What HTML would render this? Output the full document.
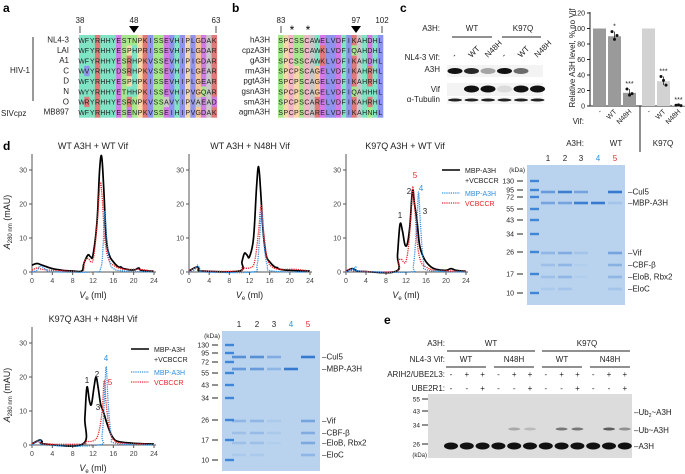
<!DOCTYPE html>
<html><head><meta charset="utf-8"><style>
body{margin:0;background:#fff;width:685px;height:474px;overflow:hidden}
svg{font-family:"Liberation Sans",sans-serif;display:block}
</style></head><body>
<svg id="fig" width="685" height="474" viewBox="0 0 685 474"></svg>
<script>
// ---------- data ----------
const seqNamesA=["NL4-3","LAI","A1","C","D","N","O","MB897"];
const seqsA=["WFYRHHYESTNPKISSEVHIPLGDAK","WFYRHHYESPHPRISSEVHIPLGDAR","WFYRHHYESRHPKVSSEVHIPIGDAR","WVYRHHYDSRHPKVSSEVHIPLGEAR","WFYRHHYESPHPKISSEVHIPLGEAR","WYYRHHYETHHPKISSEVHIPVGQAR","WRYRHHYESRNPKVSSAVYIPVAEAD","WFYRHHYESENPKVSSEIHIPVGDAK"];
const seqNamesB=["hA3H","cpzA3H","gA3H","rmA3H","pgtA3H","gsnA3H","smA3H","agmA3H"];
const seqsB=["SPCSSCAWELVDFIKAHDHL","SPCSSCAWKLVDFIQAHDHL","SPCSSCAWKLVDFIKAHDHL","SPCPSCAGELVDFIKAHRHL","SPCPSCAGELVDFIKAHRHL","SPCPSCAGELVDFIQAHHHL","SPCPSCARELVDFIKAHRHL","SPCPSCARELVDFIKAHNHL"];
const barCatsWT=["-","WT","N48H"], barValsWT=[100,90,17];
const barCatsK=["-","WT","N48H"], barValsK=[100,32,1];
const dotsWT=[[],[96,86,91],[22,14,16]];
const dotsK=[[],[38,33,27],[1,1.5,0.5]];
const yTicksBar=[0,20,40,60,80,100,120];
const xTicksSEC=[0,4,8,12,16,20,24], yTicksSEC=[0,10,20,30];
const c1Black=[[0,2],[1,2.5],[2,2],[4,1],[6,0.5],[8,0.3],[9.8,0.3],[10.2,2.5],[11,5],[11.5,4.5],[12,5],[12.8,15],[13.3,30],[13.7,34],[14.1,25],[14.6,10],[15.2,5],[16,3],[17,1.5],[17.5,1.5],[18,1],[20,0.6],[21,1.2],[21.5,0.5],[24,0.2]];
const c1Red=[[0,0.5],[1,1.2],[2,0.8],[4,0.5],[8,0.2],[10,0.2],[10.3,3],[11,4],[12,3.5],[12.8,14],[13.4,26],[13.8,22],[14.3,10],[15,4],[16,2],[18,0.8],[21,0.8],[24,0.2]];
const c1Blue=[[0,0],[1,0.5],[1.5,1.7],[2,1.5],[3,0.5],[4,0.1],[12,0],[13.5,1],[14,8],[14.3,18],[14.7,10],[15.3,3],[16,1],[18,0.3],[24,0]];
const c2Black=[[0,0.3],[1.5,1.5],[2,1],[2.5,0.3],[10,0.3],[10.5,3],[11,5.5],[11.5,5],[12,4.5],[12.8,10],[13.4,25],[13.8,31],[14.2,24],[14.7,12],[15.3,5],[16,3],[17,1.5],[17.5,1.3],[18,0.8],[20,0.5],[24,0.3]];
const c2Red=[[0,0.3],[1.5,1.3],[2.5,0.3],[10,0.3],[10.5,1.2],[12,1.2],[13,3],[13.8,12],[14.3,19.5],[14.8,12],[15.5,4],[16.5,1.5],[18,0.8],[21,0.8],[24,0.3]];
const c2Blue=[[0,0],[1,0.5],[1.7,2],[2.3,0.5],[3,0],[12.5,0],[13.5,2],[14,10],[14.4,18],[14.9,8],[15.5,2],[16.5,0.3],[24,0]];
const c3Black=[[0,0.2],[1.2,1],[2,0.5],[3,0.2],[10,0.2],[10.3,5],[10.8,14],[11.3,12],[11.8,8],[12.3,8.5],[12.8,14],[13.3,24],[13.7,20],[14.2,15],[14.7,8],[15.3,5],[16,3],[17,1.5],[18,0.8],[20,0.5],[21,1],[22,0.5],[24,0.2]];
const c3Red=[[0,0.2],[1,0.8],[2,0.3],[10,0.2],[10.4,3],[11,3.8],[11.5,3],[12,3.2],[12.6,9],[13.2,22],[13.4,25],[13.8,18],[14.3,8],[15,3],[16,1.5],[18,0.5],[24,0.2]];
const c3Blue=[[0,0],[1.5,1],[2,1.5],[2.5,0.3],[12.8,0],[13.5,2],[14.2,15],[14.5,23.5],[14.9,14],[15.5,3],[16.5,0.5],[24,0]];
const c4Black=[[0,0.3],[1.5,1.5],[2,1],[2.5,0.3],[10,0.3],[10.4,8],[10.8,17],[11.3,13],[11.7,12],[12.2,17],[12.6,20],[13,17],[13.5,12],[14,10],[14.6,7],[15.3,4],[16,2],[17,1],[20,0.5],[24,0.3]];
const c4Red=[[0,0.3],[1.5,1],[2.5,0.3],[10,0.3],[10.5,1],[12,1.2],[13,3],[13.8,10],[14.2,19],[14.6,12],[15.3,4],[16.3,1.2],[18,0.5],[24,0.2]];
const c4Blue=[[0,0],[1.7,1.5],[2.5,0],[13,0],[13.8,3],[14.3,15],[14.6,23],[15,12],[15.6,3],[16.5,0.5],[24,0]];
const markerKDa=[130,95,72,55,43,34,26,17,10];
const gelLabels=["Cul5","MBP-A3H","Vif","CBF-β","EloB, Rbx2","EloC"];
const eLanesARIH=["-","+","+","-","+","+","-","+","+","-","+","+"];
const eLanesUBE=["-","-","+","-","-","+","-","-","+","-","-","+"];
const eUbBand=[0,0,0,0,0.3,0.2,0,0.6,0.6,0,0.75,0.45];

// ---------- helpers ----------
const S=document.getElementById('fig'),NS="http://www.w3.org/2000/svg";
function el(t,a,p){const e=document.createElementNS(NS,t);for(const k in a)e.setAttribute(k,a[k]);(p||S).appendChild(e);return e;}
function tx(x,y,s,sz,anc,fill,extra){const e=el('text',Object.assign({x:x,y:y,'font-size':sz||7,'text-anchor':anc||'start',fill:fill||'#222'},extra||{}));e.textContent=s;return e;}
function nm(e,n){return e;}
function smooth(pts){let d='M'+pts[0][0]+' '+pts[0][1];
  for(let i=0;i<pts.length-1;i++){const p0=pts[Math.max(0,i-1)],p1=pts[i],p2=pts[i+1],p3=pts[Math.min(pts.length-1,i+2)];
    const t=0.18;
    let c1y=p1[1]+(p2[1]-p0[1])*t,c2y=p2[1]-(p3[1]-p1[1])*t;
    d+=` C${p1[0]+(p2[0]-p0[0])*t} ${c1y} ${p2[0]-(p3[0]-p1[0])*t} ${c2y} ${p2[0]} ${p2[1]}`;}
  return d;}

// panel letters
[["a",3,12],["b",232,12],["c",400,12],["d",3,150],["e",384,324]].forEach(p=>{const t=tx(p[1],p[2],p[0],12,'start','#000',{'font-weight':'bold'});nm(t,'panel-label-'+p[0]);});

// ---------- alignments ----------
const col={W:'#7fe3c4',F:'#7fe3c4',Y:'#7fe3c4',H:'#7fe3c4',R:'#e07a7a',K:'#e07a7a',E:'#d27be6',D:'#d27be6',S:'#a8e88c',T:'#a8e88c',N:'#a8e88c',Q:'#a8e88c',P:'#f5d7a8',G:'#f5c497',I:'#8f93ee',L:'#8f93ee',V:'#8f93ee',M:'#8f93ee',A:'#c9c9c9',C:'#f3b5c8'};
function align(names,seqs,x0,cw,lx,pre){
  const g=nm(el('g',{}),pre+'-alignment');
  seqs.forEach((s,i)=>{const y=35+i*10.3;
    const lab=tx(lx,y+7.5,names[i],8,'end','#222',{}) ;g.appendChild(lab);nm(lab,pre+'-row-label');
    for(let j=0;j<s.length;j++){el('rect',{x:x0+j*cw,y:y,width:cw+0.3,height:10.6,fill:col[s[j]]||'#ddd'},g);
      const t=tx(x0+j*cw+cw/2,y+7.8,s[j],7,'middle','#222');g.appendChild(t);}
  });
}
align(seqNamesA,seqsA,79,5.3,69,'a');
align(seqNamesB,seqsB,278,5.25,270,'b');
nm(tx(80,23,"38",8,'middle'),'pos-38');nm(tx(134,23,"48",8,'middle'),'pos-48');nm(tx(216,23,"63",8,'middle'),'pos-63');
nm(tx(281,23,"83",8,'middle'),'pos-83');nm(tx(356,23,"97",8,'middle'),'pos-97');nm(tx(382,23,"102",8,'middle'),'pos-102');
[[80],[216],[281],[382]].forEach(p=>el('line',{x1:p[0],x2:p[0],y1:26,y2:33,stroke:'#222','stroke-width':0.8}));
[134,356].forEach(x=>nm(el('path',{d:`M${x-5} 26 L${x+5} 26 L${x} 33Z`,fill:'#000'}),'arrow-marker'));
[292,308].forEach(x=>nm(tx(x,34,"*",12,'middle','#000'),'star'));
el('line',{x1:33,x2:33,y1:37,y2:101,stroke:'#777','stroke-width':1.5});
nm(tx(30,73,"HIV-1",8,'end'),'hiv1-label');nm(tx(1,116,"SIVcpz",8,'start'),'sivcpz-label');

// ---------- panel c blot ----------
tx(440,31,"A3H:",8,'end');tx(472,31,"WT",8,'middle');tx(523,31,"K97Q",8,'middle');
el('line',{x1:452,x2:492,y1:37,y2:37,stroke:'#222'});el('line',{x1:502,x2:541,y1:37,y2:37,stroke:'#222'});
tx(440,60,"NL4-3 Vif:",8,'end');
const cl=["-","WT","N48H","-","WT","N48H"];
cl.forEach((s,i)=>{const x=455+i*16.5;tx(x,58,s,8,'start','#222',{transform:`rotate(-45 ${x} 58)`});});
[["A3H",72],["Vif",92],["α-Tubulin",102]].forEach(r=>nm(tx(440,r[1],r[0],8,'end'),'blot-row-label'));
el('rect',{x:447,y:65,width:96,height:12,fill:'#f3f3f3'});el('rect',{x:447,y:83,width:96,height:13,fill:'#f3f3f3'});el('rect',{x:447,y:97,width:96,height:7,fill:'#f6f6f6'});
const cA3H=[1,0.9,0.35,1,0.6,0],cVif=[0,1,1,0.1,1,1];
cl.forEach((s,i)=>{const x=455+i*16.5;
  if(cA3H[i])el('ellipse',{cx:x,cy:71,rx:7.5,ry:3,fill:'#111','fill-opacity':cA3H[i]});
  if(cVif[i])el('ellipse',{cx:x,cy:89,rx:7.5,ry:3.5,fill:'#111','fill-opacity':cVif[i]});
  el('ellipse',{cx:x,cy:100,rx:7,ry:1.5,fill:'#222'});});
// bar chart
const by=v=>106-v*0.775;
const bg=nm(el('g',{}),'bar-chart');
el('line',{x1:590,x2:590,y1:12,y2:106,stroke:'#222'},bg);el('line',{x1:590,x2:685,y1:106,y2:106,stroke:'#222'},bg);
yTicksBar.forEach(v=>{el('line',{x1:587,x2:590,y1:by(v),y2:by(v),stroke:'#222'},bg);bg.appendChild(tx(585,by(v)+2.5,String(v),7,'end'));});
const yl=tx(575,58,"Relative A3H level, % no Vif",8,'middle','#222',{transform:'rotate(-90 575 58)'});nm(yl,'y-axis-title');
function bars(vals,cats,dots,x0,fill,nmp){vals.forEach((v,i)=>{const x=x0+i*15;const r=el('rect',{x:x,y:by(v),width:13,height:106-by(v),fill:fill},bg);
  dots[i].forEach((d,k)=>el('circle',{cx:x+4+k*2.5,cy:by(d),r:1.5,fill:'#111'},bg));
  if(i>0){el('line',{x1:x+6.5,x2:x+6.5,y1:by(Math.max(...dots[i])),y2:by(Math.min(...dots[i])),stroke:'#111','stroke-width':0.7},bg);
    bg.appendChild(tx(x+6.5,by(Math.max(...dots[i]))-3,(nmp=='wt'&&i==1)?"*":"***",7,'middle'));}
  const lx=x+9;bg.appendChild(tx(lx,112,cats[i],7,'end','#222',{transform:`rotate(-45 ${lx} 112)`}));});}
bars(barValsWT,barCatsWT,dotsWT,593,'#9a9a9a','wt');bars(barValsK,barCatsK,dotsK,642,'#d2d2d2','k97q');
tx(584,124,"Vif:",8,'end');tx(584,146,"A3H:",8,'end');tx(616,146,"WT",8,'middle');tx(663,146,"K97Q",8,'middle');
el('line',{x1:640,x2:640,y1:106,y2:152,stroke:'#222'},bg);

// ---------- chromatograms ----------
function sec(x0,x1,y0,title,tl,series,showY,nmx){
  const g=nm(el('g',{}),nmx);
  const sx=v=>x0+(v/24)*(x1-x0), sy=v=>y0-v*3.4;
  el('line',{x1:x0,x2:x0,y1:y0-118,y2:y0,stroke:'#555'},g);el('line',{x1:x0,x2:x1+2,y1:y0,y2:y0,stroke:'#555'},g);
  xTicksSEC.forEach(v=>{el('line',{x1:sx(v),x2:sx(v),y1:y0,y2:y0+3,stroke:'#555'},g);g.appendChild(tx(sx(v),y0+11,String(v),7,'middle','#444'));});
  yTicksSEC.forEach(v=>{el('line',{x1:x0-3,x2:x0,y1:sy(v),y2:sy(v),stroke:'#555'},g);g.appendChild(tx(x0-5,sy(v)+2.5,String(v),7,'end','#444'));});
  const xl=tx((x0+x1)/2,y0+26,"",9,'middle','#222');xl.innerHTML='<tspan font-style="italic">V</tspan><tspan font-size="6" dy="2">e</tspan><tspan dy="-2"> (ml)</tspan>';g.appendChild(xl);
  g.appendChild(tx(tl[0],tl[1],title,9,'middle','#222'));
  if(showY){const a=tx(10,y0-50,"",9,'middle','#222',{transform:`rotate(-90 10 ${y0-50})`});a.innerHTML='<tspan font-style="italic">A</tspan><tspan font-size="6" dy="2">280 nm</tspan><tspan dy="-2"> (mAU)</tspan>';g.appendChild(a);}
  series.forEach(s=>{const p=el('path',{d:smooth(s.d.map(q=>[sx(q[0]),sy(q[1])])),fill:'none',stroke:s.c,'stroke-width':s.w,'stroke-dasharray':s.da||'none'},g);});
  return g;}
const ser=(b,r,bl)=>[{d:b,c:'#000',w:1.7,n:'complex-line'},{d:r,c:'#e8242a',w:1.3,da:'1.2 1',n:'vcbccr-line'},{d:bl,c:'#2f8fe0',w:1.3,da:'1.2 1',n:'mbp-a3h-line'}];
sec(32,154,272,"WT A3H + WT Vif",[93,149],ser(c1Black,c1Red,c1Blue),true,'sec-wt-wt');
sec(189,310,272,"WT A3H + N48H Vif",[250,149],ser(c2Black,c2Red,c2Blue),false,'sec-wt-n48h');
sec(346,466,272,"K97Q A3H + WT Vif",[405,149],ser(c3Black,c3Red,c3Blue),false,'sec-k97q-wt');
sec(32,154,445,"K97Q A3H + N48H Vif",[93,322],ser(c4Black,c4Red,c4Blue),true,'sec-k97q-n48h');
[[400,218,"1",'#222'],[409,194,"2",'#222'],[415,178,"5",'#e8242a'],[421,191,"4",'#2f8fe0'],[425,214,"3",'#222'],
 [87,383,"1",'#222'],[97,377,"2",'#222'],[110,385,"5",'#e8242a'],[106,361,"4",'#2f8fe0'],[98,410,"3",'#222']].forEach(p=>tx(p[0],p[1],p[2],8,'middle',p[3]));
function legend(x,y){const g=nm(el('g',{}),'legend');
  el('line',{x1:x,x2:x+18,y1:y,y2:y,stroke:'#000','stroke-width':1.6},g);g.appendChild(tx(x+23,y+3,"MBP-A3H",7));g.appendChild(tx(x+23,y+13,"+VCBCCR",7));
  el('line',{x1:x,x2:x+18,y1:y+23,y2:y+23,stroke:'#2f8fe0','stroke-width':1.3,'stroke-dasharray':'1.2 1'},g);g.appendChild(tx(x+23,y+26,"MBP-A3H",7,'start','#2f8fe0'));
  el('line',{x1:x,x2:x+18,y1:y+33,y2:y+33,stroke:'#e8242a','stroke-width':1.3,'stroke-dasharray':'1.2 1'},g);g.appendChild(tx(x+23,y+36,"VCBCCR",7,'start','#e8242a'));}
legend(442,170);legend(131,349);

// ---------- gels ----------
function gel(gx,gw,gy,gh,mk,lanes,rowsY,bands,lblX,nmx){
  const g=nm(el('g',{}),nmx);
  el('rect',{x:gx,y:gy,width:gw,height:gh,fill:'#b9d3ef'},g);
  g.appendChild(tx(gx-2,gy+7,"(kDa)",6.5,'end'));
  markerKDa.forEach((k,i)=>{g.appendChild(tx(gx-13,mk[i]+2.5,String(k),7,'end'));el('line',{x1:gx-10,x2:gx-4,y1:mk[i],y2:mk[i],stroke:'#222'},g);
    el('rect',{x:gx+3,y:mk[i]-1.2,width:9,height:2.4,fill:'#3f86d8'},g);});
  lanes.forEach((x,i)=>{g.appendChild(tx(x,gy-4,String(i+1),8,'middle',i==3?'#2f8fe0':i==4?'#e8242a':'#222'));
    bands[i].forEach((o,j)=>{if(o>0)el('rect',{x:x-7,y:rowsY[j]-1.3,width:14,height:2.6,fill:'#2f74cc','fill-opacity':o},g);});});
  gelLabels.forEach((s,j)=>{g.appendChild(tx(lblX,rowsY[j]+2.5,"–"+s,8,'start','#222'));});
}
const bandsTop=[[0.6,0.5,0.3,0.2,0.2,0.1],[0.9,0.5,0.4,0.3,0.3,0.15],[0.5,0.9,0.15,0.05,0.05,0],[0,0.95,0,0,0,0],[0.95,0.15,0.5,0.35,0.3,0.15]];
const bandsBot=[[0.7,0.6,0.3,0.2,0.2,0.1],[0.7,0.6,0.3,0.25,0.2,0.1],[0.4,0.3,0.1,0.1,0.05,0],[0,0.95,0,0,0,0],[0.95,0,0.5,0.4,0.45,0.3]];
gel(527,98,165,140,[181,190,197,209,220,234,252,274,293],[548,565,581,598,615],[192,203,253,265,277,289],bandsTop,628,'gel-top');
gel(222,98,331,140,[345,353,362,373,385,398,420,440,460],[239,257,274,291,308],[357,369,421,433,443,455],bandsBot,322,'gel-bottom');

// ---------- panel e ----------
tx(445,346,"A3H:",8,'end');tx(491,346,"WT",8,'middle');tx(587,346,"K97Q",8,'middle');
el('line',{x1:447,x2:535,y1:351,y2:351,stroke:'#222'});el('line',{x1:542,x2:630,y1:351,y2:351,stroke:'#222'});
tx(445,362,"NL4-3 Vif:",8,'end');[[466,"WT"],[514,"N48H"],[562,"WT"],[610,"N48H"]].forEach(p=>{tx(p[0],362,p[1],8,'middle');el('line',{x1:p[0]-20,x2:p[0]+20,y1:367,y2:367,stroke:'#222'});});
tx(445,377,"ARIH2/UBE2L3:",8,'end');tx(445,391,"UBE2R1:",8,'end');
const eg=nm(el('g',{}),'ub-blot');
el('rect',{x:428,y:394,width:204,height:64,fill:'#dcdcdc'},eg);
eLanesARIH.forEach((s,i)=>{const x=451+i*15.8;tx(x,377,s,8,'middle');tx(x,391,eLanesUBE[i],8,'middle');
  el('ellipse',{cx:x,cy:446,rx:7,ry:3.5,fill:'#111'},eg);
  if(eUbBand[i])el('ellipse',{cx:x,cy:429,rx:6,ry:1.5,fill:'#333','fill-opacity':eUbBand[i]},eg);});
[[55,399],[43,411],[34,425],[26,444]].forEach(p=>{tx(420,p[1]+2.5,String(p[0]),6.5,'end');el('line',{x1:422,x2:428,y1:p[1],y2:p[1],stroke:'#222'});});
tx(427,457,"(kDa)",6,'end');
const u2=tx(634,415,"",8);u2.innerHTML='–Ub<tspan font-size="5" dy="2">2</tspan><tspan dy="-2">~A3H</tspan>';
tx(634,433,"–Ub~A3H",8);tx(634,449,"–A3H",8);
</script>
</body></html>
